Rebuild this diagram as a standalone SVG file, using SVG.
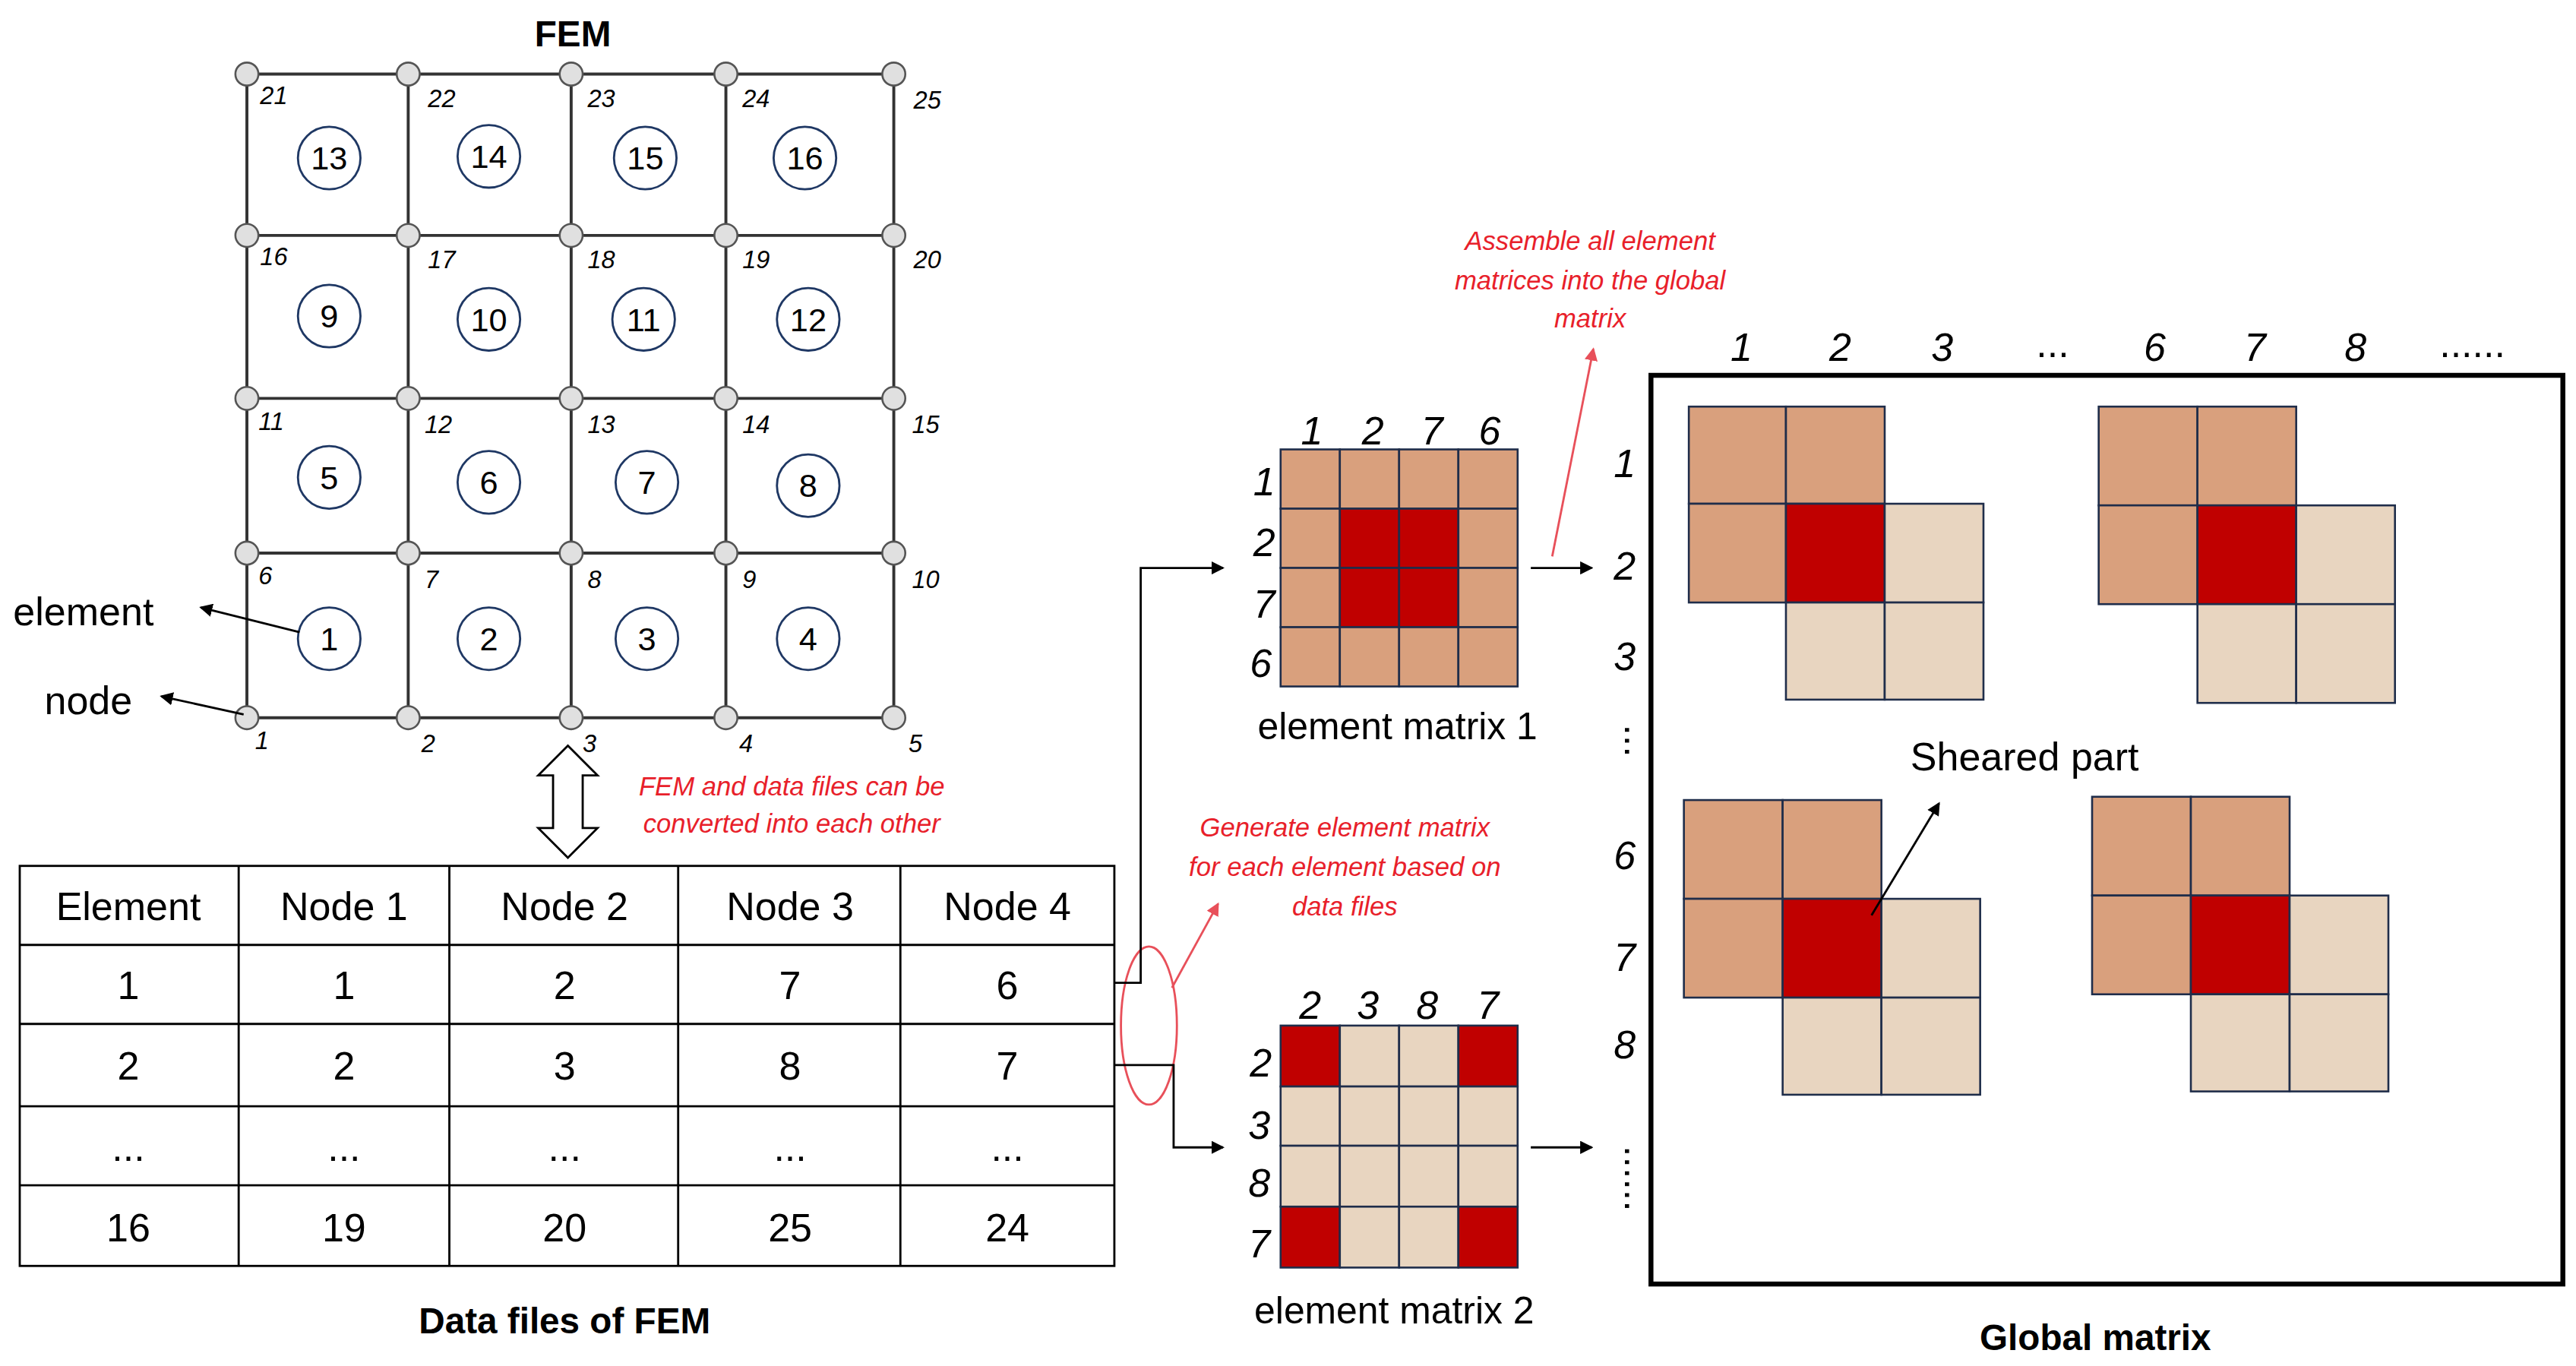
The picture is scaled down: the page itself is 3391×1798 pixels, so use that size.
<svg xmlns="http://www.w3.org/2000/svg" width="3391" height="1798" viewBox="0 0 3391 1798">
<style>
text{font-family:"Liberation Sans",Arial,sans-serif;fill:#000}
.nl{font-size:15px;font-style:italic}
.el{font-size:20px;text-anchor:middle}
.ec{fill:#fff;stroke:#1f3864;stroke-width:1.3}
.nd{fill:#e0e0e0;stroke:#555;stroke-width:1.2}
.gl{stroke:#333;stroke-width:1.8;fill:none}
.red{fill:#e8202a;font-size:16px;font-style:italic;text-anchor:middle}
.big{font-size:24px}
.mi{font-size:24px;font-style:italic;text-anchor:middle}
.tan{fill:#d9a07d;stroke:#1f2d4a;stroke-width:1.2}
.rd{fill:#c00000;stroke:#1f2d4a;stroke-width:1.2}
.lt{fill:#e8d5c0;stroke:#1f2d4a;stroke-width:1.2}
.tb{fill:none;stroke:#000;stroke-width:1.3}
.tt{font-size:24px;text-anchor:middle}
.ar{stroke:#000;stroke-width:1.3;fill:none;marker-end:url(#ah)}
.rar{stroke:#e8505a;stroke-width:1.3;fill:none;marker-end:url(#rah)}
</style>
<defs>
<marker id="ah" markerWidth="8" markerHeight="8" refX="7" refY="4" orient="auto" markerUnits="userSpaceOnUse"><path d="M0,0 L8,4 L0,8 z" fill="#000"/></marker>
<marker id="rah" markerWidth="8" markerHeight="8" refX="7" refY="4" orient="auto" markerUnits="userSpaceOnUse"><path d="M0,0 L8,4 L0,8 z" fill="#e8505a"/></marker>
</defs>
<rect width="3391" height="1798" fill="#fff"/>
<g transform="scale(2.1668)">
<g id="fem">
<text x="348" y="28" text-anchor="middle" font-weight="bold" font-size="22">FEM</text>
<path class="gl" d="M150,45H543M150,143H543M150,242H543M150,336H543M150,436H543M150,45V436M248,45V436M347,45V436M441,45V436M543,45V436"/>
<g id="nodes">
<circle class="nd" cx="150" cy="45" r="7"/><circle class="nd" cx="248" cy="45" r="7"/><circle class="nd" cx="347" cy="45" r="7"/><circle class="nd" cx="441" cy="45" r="7"/><circle class="nd" cx="543" cy="45" r="7"/>
<circle class="nd" cx="150" cy="143" r="7"/><circle class="nd" cx="248" cy="143" r="7"/><circle class="nd" cx="347" cy="143" r="7"/><circle class="nd" cx="441" cy="143" r="7"/><circle class="nd" cx="543" cy="143" r="7"/>
<circle class="nd" cx="150" cy="242" r="7"/><circle class="nd" cx="248" cy="242" r="7"/><circle class="nd" cx="347" cy="242" r="7"/><circle class="nd" cx="441" cy="242" r="7"/><circle class="nd" cx="543" cy="242" r="7"/>
<circle class="nd" cx="150" cy="336" r="7"/><circle class="nd" cx="248" cy="336" r="7"/><circle class="nd" cx="347" cy="336" r="7"/><circle class="nd" cx="441" cy="336" r="7"/><circle class="nd" cx="543" cy="336" r="7"/>
<circle class="nd" cx="150" cy="436" r="7" fill="#c8c8c8"/><circle class="nd" cx="248" cy="436" r="7"/><circle class="nd" cx="347" cy="436" r="7"/><circle class="nd" cx="441" cy="436" r="7"/><circle class="nd" cx="543" cy="436" r="7"/>
<text class="nl" x="158" y="63">21</text><text class="nl" x="260" y="65">22</text><text class="nl" x="357" y="65">23</text><text class="nl" x="451" y="65">24</text><text class="nl" x="555" y="66">25</text>
<text class="nl" x="158" y="161">16</text><text class="nl" x="260" y="163">17</text><text class="nl" x="357" y="163">18</text><text class="nl" x="451" y="163">19</text><text class="nl" x="555" y="163">20</text>
<text class="nl" x="157" y="261">11</text><text class="nl" x="258" y="263">12</text><text class="nl" x="357" y="263">13</text><text class="nl" x="451" y="263">14</text><text class="nl" x="554" y="263">15</text>
<text class="nl" x="157" y="355">6</text><text class="nl" x="258" y="357">7</text><text class="nl" x="357" y="357">8</text><text class="nl" x="451" y="357">9</text><text class="nl" x="554" y="357">10</text>
<text class="nl" x="155" y="455">1</text><text class="nl" x="256" y="457">2</text><text class="nl" x="354" y="457">3</text><text class="nl" x="449" y="457">4</text><text class="nl" x="552" y="457">5</text>
</g>
<g id="elements">
<circle class="ec" cx="200" cy="96" r="19"/><text class="el" x="200" y="103">13</text>
<circle class="ec" cx="297" cy="95" r="19"/><text class="el" x="297" y="102">14</text>
<circle class="ec" cx="392" cy="96" r="19"/><text class="el" x="392" y="103">15</text>
<circle class="ec" cx="489" cy="96" r="19"/><text class="el" x="489" y="103">16</text>
<circle class="ec" cx="200" cy="192" r="19"/><text class="el" x="200" y="199">9</text>
<circle class="ec" cx="297" cy="194" r="19"/><text class="el" x="297" y="201">10</text>
<circle class="ec" cx="391" cy="194" r="19"/><text class="el" x="391" y="201">11</text>
<circle class="ec" cx="491" cy="194" r="19"/><text class="el" x="491" y="201">12</text>
<circle class="ec" cx="200" cy="290" r="19"/><text class="el" x="200" y="297">5</text>
<circle class="ec" cx="297" cy="293" r="19"/><text class="el" x="297" y="300">6</text>
<circle class="ec" cx="393" cy="293" r="19"/><text class="el" x="393" y="300">7</text>
<circle class="ec" cx="491" cy="295" r="19"/><text class="el" x="491" y="302">8</text>
<circle class="ec" cx="200" cy="388" r="19"/><text class="el" x="200" y="395">1</text>
<circle class="ec" cx="297" cy="388" r="19"/><text class="el" x="297" y="395">2</text>
<circle class="ec" cx="393" cy="388" r="19"/><text class="el" x="393" y="395">3</text>
<circle class="ec" cx="491" cy="388" r="19"/><text class="el" x="491" y="395">4</text>
</g>
<text class="big" x="8" y="380">element</text>
<text class="big" x="27" y="434">node</text>
</g>
<g id="table">
<rect class="tb" x="12" y="526" width="665" height="243"/>
<path class="tb" d="M12,574H677M12,622H677M12,672H677M12,720H677M145,526V769M273,526V769M412,526V769M547,526V769"/>
<text class="tt" x="78" y="559">Element</text><text class="tt" x="209" y="559">Node 1</text><text class="tt" x="343" y="559">Node 2</text><text class="tt" x="480" y="559">Node 3</text><text class="tt" x="612" y="559">Node 4</text>
<text class="tt" x="78" y="607">1</text><text class="tt" x="209" y="607">1</text><text class="tt" x="343" y="607">2</text><text class="tt" x="480" y="607">7</text><text class="tt" x="612" y="607">6</text>
<text class="tt" x="78" y="656">2</text><text class="tt" x="209" y="656">2</text><text class="tt" x="343" y="656">3</text><text class="tt" x="480" y="656">8</text><text class="tt" x="612" y="656">7</text>
<text class="tt" x="78" y="705">...</text><text class="tt" x="209" y="705">...</text><text class="tt" x="343" y="705">...</text><text class="tt" x="480" y="705">...</text><text class="tt" x="612" y="705">...</text>
<text class="tt" x="78" y="754">16</text><text class="tt" x="209" y="754">19</text><text class="tt" x="343" y="754">20</text><text class="tt" x="480" y="754">25</text><text class="tt" x="612" y="754">24</text>
<text x="343" y="810" text-anchor="middle" font-weight="bold" font-size="22">Data files of FEM</text>
</g>
<g id="em1">
<rect class="tan" x="778" y="273" width="36" height="36"/><rect class="tan" x="814" y="273" width="36" height="36"/><rect class="tan" x="850" y="273" width="36" height="36"/><rect class="tan" x="886" y="273" width="36" height="36"/>
<rect class="tan" x="778" y="309" width="36" height="36"/><rect class="rd" x="814" y="309" width="36" height="36"/><rect class="rd" x="850" y="309" width="36" height="36"/><rect class="tan" x="886" y="309" width="36" height="36"/>
<rect class="tan" x="778" y="345" width="36" height="36"/><rect class="rd" x="814" y="345" width="36" height="36"/><rect class="rd" x="850" y="345" width="36" height="36"/><rect class="tan" x="886" y="345" width="36" height="36"/>
<rect class="tan" x="778" y="381" width="36" height="36"/><rect class="tan" x="814" y="381" width="36" height="36"/><rect class="tan" x="850" y="381" width="36" height="36"/><rect class="tan" x="886" y="381" width="36" height="36"/>
<text class="mi" x="797" y="270">1</text><text class="mi" x="834" y="270">2</text><text class="mi" x="870" y="270">7</text><text class="mi" x="905" y="270">6</text>
<text class="mi" x="768" y="301">1</text><text class="mi" x="768" y="338">2</text><text class="mi" x="768" y="375">7</text><text class="mi" x="766" y="411">6</text>
<text x="849" y="449" text-anchor="middle" font-size="23">element matrix 1</text>
</g>
<g id="em2">
<rect class="rd" x="778" y="623" width="36" height="37"/><rect class="lt" x="814" y="623" width="36" height="37"/><rect class="lt" x="850" y="623" width="36" height="37"/><rect class="rd" x="886" y="623" width="36" height="37"/>
<rect class="lt" x="778" y="660" width="36" height="36"/><rect class="lt" x="814" y="660" width="36" height="36"/><rect class="lt" x="850" y="660" width="36" height="36"/><rect class="lt" x="886" y="660" width="36" height="36"/>
<rect class="lt" x="778" y="696" width="36" height="37"/><rect class="lt" x="814" y="696" width="36" height="37"/><rect class="lt" x="850" y="696" width="36" height="37"/><rect class="lt" x="886" y="696" width="36" height="37"/>
<rect class="rd" x="778" y="733" width="36" height="37"/><rect class="lt" x="814" y="733" width="36" height="37"/><rect class="lt" x="850" y="733" width="36" height="37"/><rect class="rd" x="886" y="733" width="36" height="37"/>
<text class="mi" x="796" y="619">2</text><text class="mi" x="831" y="619">3</text><text class="mi" x="867" y="619">8</text><text class="mi" x="904" y="619">7</text>
<text class="mi" x="766" y="654">2</text><text class="mi" x="765" y="692">3</text><text class="mi" x="765" y="727">8</text><text class="mi" x="765" y="764">7</text>
<text x="847" y="804" text-anchor="middle" font-size="23">element matrix 2</text>
</g>
<g id="global">
<rect x="1003" y="228" width="554" height="552" fill="none" stroke="#000" stroke-width="3"/>
<text class="mi" x="1058" y="219">1</text><text class="mi" x="1118" y="219">2</text><text class="mi" x="1180" y="219">3</text><text class="tt" x="1247" y="217" font-size="18">...</text><text class="mi" x="1309" y="219">6</text><text class="mi" x="1370" y="219">7</text><text class="mi" x="1431" y="219">8</text><text class="tt" x="1502" y="217" font-size="18">......</text>
<text class="mi" x="987" y="290">1</text><text class="mi" x="987" y="352">2</text><text class="mi" x="987" y="407">3</text><text class="tt" x="987" y="450" font-size="18" transform="rotate(90 987 450)">...</text>
<text class="mi" x="987" y="528">6</text><text class="mi" x="987" y="590">7</text><text class="mi" x="987" y="643">8</text><text class="tt" x="987" y="716" font-size="18" transform="rotate(90 987 716)">......</text>
<g id="b1"><rect class="tan" x="1026" y="247" width="59" height="59"/><rect class="tan" x="1085" y="247" width="60" height="59"/><rect class="tan" x="1026" y="306" width="59" height="60"/><rect class="rd" x="1085" y="306" width="60" height="60"/><rect class="lt" x="1145" y="306" width="60" height="60"/><rect class="lt" x="1085" y="366" width="60" height="59"/><rect class="lt" x="1145" y="366" width="60" height="59"/></g>
<g id="b2"><rect class="tan" x="1275" y="247" width="60" height="60"/><rect class="tan" x="1335" y="247" width="60" height="60"/><rect class="tan" x="1275" y="307" width="60" height="60"/><rect class="rd" x="1335" y="307" width="60" height="60"/><rect class="lt" x="1395" y="307" width="60" height="60"/><rect class="lt" x="1335" y="367" width="60" height="60"/><rect class="lt" x="1395" y="367" width="60" height="60"/></g>
<g id="b3"><rect class="tan" x="1023" y="486" width="60" height="60"/><rect class="tan" x="1083" y="486" width="60" height="60"/><rect class="tan" x="1023" y="546" width="60" height="60"/><rect class="rd" x="1083" y="546" width="60" height="60"/><rect class="lt" x="1143" y="546" width="60" height="60"/><rect class="lt" x="1083" y="606" width="60" height="59"/><rect class="lt" x="1143" y="606" width="60" height="59"/></g>
<g id="b4"><rect class="tan" x="1271" y="484" width="60" height="60"/><rect class="tan" x="1331" y="484" width="60" height="60"/><rect class="tan" x="1271" y="544" width="60" height="60"/><rect class="rd" x="1331" y="544" width="60" height="60"/><rect class="lt" x="1391" y="544" width="60" height="60"/><rect class="lt" x="1331" y="604" width="60" height="59"/><rect class="lt" x="1391" y="604" width="60" height="59"/></g>
<text x="1230" y="468" text-anchor="middle" font-size="24">Sheared part</text>
<text x="1273" y="820" text-anchor="middle" font-weight="bold" font-size="22">Global matrix</text>
</g>
<g id="notes">
<text class="red" x="481" y="483">FEM and data files can be</text>
<text class="red" x="481" y="506">converted into each other</text>
<text class="red" x="817" y="508">Generate element matrix</text>
<text class="red" x="817" y="532">for each element based on</text>
<text class="red" x="817" y="556">data files</text>
<text class="red" x="966" y="152">Assemble all element</text>
<text class="red" x="966" y="176">matrices into the global</text>
<text class="red" x="966" y="199">matrix</text>
<ellipse cx="698" cy="623" rx="17" ry="48" fill="none" stroke="#e8505a" stroke-width="1.3"/>
</g>
<g id="connectors">
<path class="ar" d="M182,384 L122,369"/>
<path class="ar" d="M148,434 L98,423"/>
<path d="M345,453 L363,471 L354,471 L354,503 L363,503 L345,521 L327,503 L336,503 L336,471 L327,471 Z" fill="#fff" stroke="#000" stroke-width="1.3"/>
<path class="ar" d="M677,597 H693 V345 H743"/>
<path class="ar" d="M677,647 H713 V697 H743"/>
<path class="rar" d="M712,600 L740,549"/>
<path class="ar" d="M930,345 H967"/>
<path class="ar" d="M930,697 H967"/>
<path class="rar" d="M943,338 L968,212"/>
<path class="ar" d="M1137,556 L1178,488"/>
</g>
</g>
</svg>
